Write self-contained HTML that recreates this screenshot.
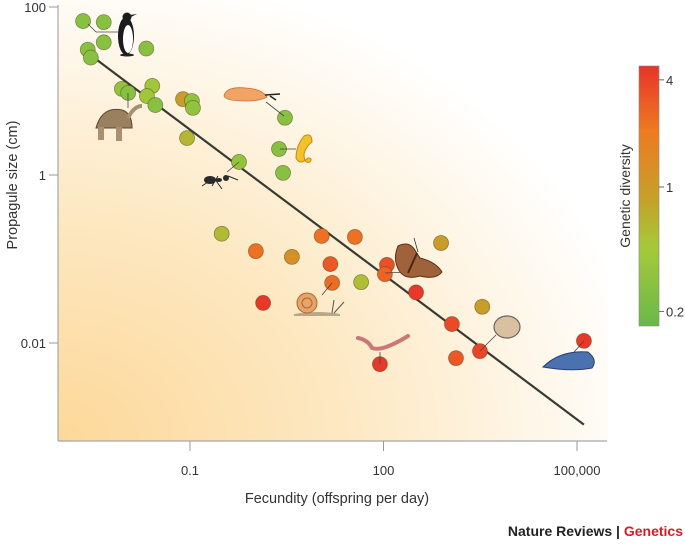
<!DOCTYPE html>
<html><head><meta charset="utf-8"><style>
html,body{margin:0;padding:0;background:#fff;}
svg{display:block;font-family:"Liberation Sans",sans-serif;}
</style></head><body>
<svg id="chart" width="685" height="547" viewBox="0 0 685 547">
<defs>
<radialGradient id="bg" cx="0" cy="1" r="1.2" gradientUnits="objectBoundingBox">
<stop offset="0" stop-color="#fdd899"/>
<stop offset="0.45" stop-color="#fde9c4"/>
<stop offset="0.9" stop-color="#ffffff"/>
</radialGradient>
<linearGradient id="cb" x1="0" y1="1" x2="0" y2="0">
<stop offset="0" stop-color="#6ab84a"/>
<stop offset="0.3" stop-color="#a6c93a"/>
<stop offset="0.48" stop-color="#c4a22a"/>
<stop offset="0.75" stop-color="#ee7a22"/>
<stop offset="1" stop-color="#e8332a"/>
</linearGradient>
</defs>
<rect x="58" y="0" width="550" height="441" fill="url(#bg)"/>
<g id="marks"></g>
<g id="animals">
<g><line x1="88" y1="24" x2="96" y2="32" stroke="#444" stroke-width="0.8"/><line x1="96" y1="32" x2="118" y2="32" stroke="#444" stroke-width="0.8"/>
<ellipse cx="126" cy="36" rx="8" ry="19" fill="#1b1b1b"/><ellipse cx="128" cy="39" rx="5" ry="14" fill="#fff"/><circle cx="127" cy="17" r="4.5" fill="#1b1b1b"/><path d="M130,15 L137,14 L131,17Z" fill="#222"/><ellipse cx="127" cy="55" rx="7" ry="1.5" fill="#222"/></g>
<g><line x1="128" y1="93" x2="128" y2="108" stroke="#444" stroke-width="0.8"/>
<path d="M96,128 Q102,106 122,110 Q132,113 132,128Z" fill="#9b8060" stroke="#5a4632" stroke-width="1"/><path d="M128,118 Q134,106 142,106" stroke="#a59070" stroke-width="4" fill="none"/><rect x="98" y="127" width="6" height="13" fill="#a89070"/><rect x="116" y="127" width="6" height="14" fill="#a89070"/></g>
<g><path d="M224,96 Q226,86 246,88 Q262,89 267,97 Q260,101 246,101 Q226,101 224,96Z" fill="#f2a466" stroke="#c87030" stroke-width="0.8"/><path d="M265,95 L280,94 M270,96 L276,100" stroke="#222" stroke-width="1.5"/><line x1="266" y1="102" x2="284" y2="116" stroke="#444" stroke-width="0.8"/></g>
<g><line x1="280" y1="149" x2="296" y2="149" stroke="#444" stroke-width="0.8"/><path d="M304,136 Q312,132 312,142 Q306,146 304,154 Q304,164 310,162 Q313,158 308,158 Q300,166 296,158 Q296,146 304,136Z" fill="#f2c22a" stroke="#c08a10" stroke-width="1"/></g>
<g><line x1="239" y1="162" x2="227" y2="172" stroke="#444" stroke-width="0.8"/><ellipse cx="210" cy="180" rx="6" ry="4" fill="#2a2a2a"/><ellipse cx="219" cy="180" rx="3" ry="2" fill="#2a2a2a"/><circle cx="226" cy="178" r="3" fill="#2a2a2a"/><path d="M202,186 L214,178 L222,189 M212,186 L218,176 M228,176 L238,180" stroke="#2a2a2a" stroke-width="1" fill="none"/></g>
<g><line x1="385" y1="273" x2="408" y2="272" stroke="#444" stroke-width="0.8"/><path d="M398,246 Q410,240 416,252 L420,258 Q436,262 442,272 Q436,280 420,276 Q406,280 400,272 Q392,260 398,246Z" fill="#a0623a" stroke="#5a3218" stroke-width="1"/><path d="M417,253 L408,273" stroke="#4a2810" stroke-width="2"/><line x1="418" y1="252" x2="414" y2="238" stroke="#333" stroke-width="0.8"/></g>
<g><line x1="332" y1="283" x2="322" y2="295" stroke="#444" stroke-width="0.8"/><path d="M294,314 Q318,310 340,314 L340,316 L294,316Z" fill="#b8a888"/><circle cx="307" cy="303" r="10" fill="#e8a468" stroke="#a86830" stroke-width="1"/><circle cx="307" cy="303" r="5" fill="none" stroke="#a86830" stroke-width="1"/><path d="M332,313 L334,300 M334,313 L344,302" stroke="#555" stroke-width="1"/></g>
<g><line x1="380" y1="352" x2="380" y2="364" stroke="#444" stroke-width="0.8"/><path d="M358,338 Q368,340 372,348 Q382,352 408,336" stroke="#c87878" stroke-width="4" fill="none" stroke-linecap="round"/></g>
<g><line x1="480" y1="351" x2="496" y2="335" stroke="#444" stroke-width="0.8"/><ellipse cx="507" cy="327" rx="13" ry="11" fill="#d8c0a0" stroke="#666" stroke-width="1.2"/></g>
<g><line x1="584" y1="341" x2="574" y2="352" stroke="#444" stroke-width="0.8"/><path d="M543,367 Q560,350 588,352 Q598,360 592,368 Q572,372 543,367Z" fill="#4a72b0" stroke="#2a3e70" stroke-width="1"/></g>
</g>
<line x1="58" y1="5" x2="58" y2="441" stroke="#a8a8a8" stroke-width="1.2"/>
<line x1="58" y1="441" x2="607" y2="441" stroke="#a8a8a8" stroke-width="1.2"/>
<g id="ticks"></g>
<text x="337" y="503" text-anchor="middle" font-size="14.5" fill="#333">Fecundity (offspring per day)</text>
<text transform="translate(17,185) rotate(-90)" text-anchor="middle" font-size="14.5" fill="#333">Propagule size (cm)</text>
<rect x="639" y="66" width="20" height="260" fill="url(#cb)" stroke="#888" stroke-width="0.6"/>
<text transform="translate(630,196) rotate(-90)" text-anchor="middle" font-size="14" fill="#333">Genetic diversity</text>
<g id="cbticks"></g>
<text x="683" y="536" text-anchor="end" font-size="14" font-weight="bold" fill="#222">Nature Reviews | <tspan fill="#d0202a">Genetics</tspan></text>
</svg>
<script>
const fecundity = [0.0022,0.0046,0.0046,0.0026,0.0029,0.021,0.0088,0.011,0.026,0.0215,0.029,0.078,0.107,0.111,0.09,0.575,2.97,2.4,2.77,0.31,1.05,3.8,11,36,15,16,45,1.36,113,105,780,320,1150,3400,1330,3130,88,128000];
const propagule = [68,66,38,31,25,32,10.6,9.5,11.5,8.7,6.8,8,7.6,6.3,2.75,1.43,4.8,2.04,1.06,0.2,0.124,0.106,0.188,0.183,0.087,0.052,0.053,0.030,0.085,0.066,0.155,0.040,0.0168,0.027,0.0066,0.008,0.0056,0.0106];
const diversity = [0.3,0.3,0.3,0.3,0.3,0.3,0.35,0.3,0.45,0.45,0.3,1.1,0.35,0.35,0.7,0.35,0.3,0.3,0.3,0.65,2.2,1.4,2.2,2.2,2.8,2.3,0.6,3.8,3,2.5,1.1,3.8,3.2,1.1,2.8,3.4,3.8,3.8];
const fitLine = [-0.035,-0.575];
const fitRange = [0.0036,128000];
const xTicks = [0.1,100,100000];
const xTickLabels = ["0.1","100","100,000"];
const yTicks = [100,1,0.01];
const yTickLabels = ["100","1","0.01"];
const cbTicks = [4,1,0.2];
const cbTickLabels = ["4","1","0.2"];

const NS="http://www.w3.org/2000/svg";
const X = v => 190 + (Math.log10(v)+1)*64.5;
const Y = v => 7 + (2-Math.log10(v))*84;
const CB = v => 187 - Math.log10(v)*178;
const stops=[[0.2,[112,186,70]],[0.5,[166,201,58]],[1,[196,162,42]],[2,[238,122,34]],[4,[232,51,42]]];
function col(d){
  const l=Math.log10(d);
  if(d<=stops[0][0]) return 'rgb('+stops[0][1]+')';
  for(let i=1;i<stops.length;i++){
    if(d<=stops[i][0]){const a=Math.log10(stops[i-1][0]),b=Math.log10(stops[i][0]);const t=(l-a)/(b-a);
      const c=stops[i-1][1].map((v,k)=>Math.round(v+(stops[i][1][k]-v)*t));return 'rgb('+c+')';}
  }
  return 'rgb('+stops[4][1]+')';
}
function mk(tag,attrs,parent){const e=document.createElementNS(NS,tag);for(const k in attrs)e.setAttribute(k,attrs[k]);parent.appendChild(e);return e;}
const marks=document.getElementById('marks');
const ln=mk('line',{x1:X(fitRange[0]),y1:Y(Math.pow(10,fitLine[0]+fitLine[1]*Math.log10(fitRange[0]))),x2:X(fitRange[1]),y2:Y(Math.pow(10,fitLine[0]+fitLine[1]*Math.log10(fitRange[1]))),stroke:'#3a3a34','stroke-width':2.2},marks);


fecundity.forEach((f,i)=>{
  const c=mk('circle',{cx:X(f),cy:Y(propagule[i]),r:7.5,fill:col(diversity[i]),stroke:'rgba(80,70,30,0.55)','stroke-width':0.8},marks);
  
  
});
const tk=document.getElementById('ticks');
xTicks.forEach((v,i)=>{
  const l=mk('line',{x1:X(v),y1:441,x2:X(v),y2:451,stroke:'#999','stroke-width':1},tk);
  
  
  const t=mk('text',{x:X(v),y:475,'text-anchor':'middle','font-size':13,fill:'#333'},tk);
  t.textContent=xTickLabels[i];
  
  
});
yTicks.forEach((v,i)=>{
  const l=mk('line',{x1:49,y1:Y(v),x2:58,y2:Y(v),stroke:'#999','stroke-width':1},tk);
  
  
  const t=mk('text',{x:46,y:Y(v)+5,'text-anchor':'end','font-size':13,fill:'#333'},tk);
  t.textContent=yTickLabels[i];
  
  
});
const cbt=document.getElementById('cbticks');
cbTicks.forEach((v,i)=>{
  const l=mk('line',{x1:659,y1:CB(v),x2:664,y2:CB(v),stroke:'#666','stroke-width':1},cbt);
  
  
  const t=mk('text',{x:666,y:CB(v)+5,'font-size':13,fill:'#333'},cbt);
  t.textContent=cbTickLabels[i];
  
  
});
</script>
</body></html>
